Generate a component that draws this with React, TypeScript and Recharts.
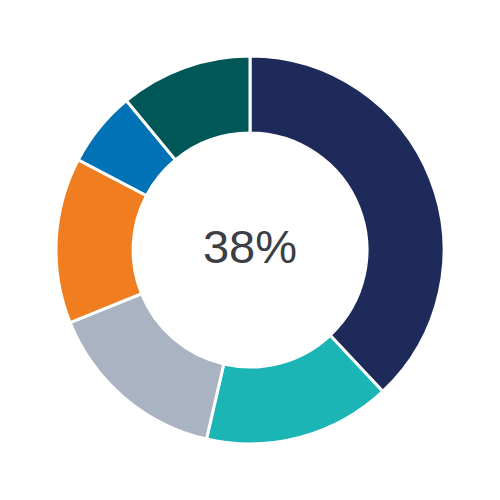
import React from 'react'
import { PieChart, Pie, Cell, Label } from 'recharts'

const segmentNames = ['A', 'B', 'C', 'D', 'E', 'F']
const segmentValues = [38, 15.6, 15.3, 13.8, 6.3, 11]
const segmentColors = ['#1e2b5a', '#1cb5b5', '#a9b3c1', '#f07d1f', '#0072b5', '#005757']
const centerLabel = '38%'

const data = segmentNames.map((name, i) => ({ name, value: segmentValues[i] }))

export default function App() {
  return (
    <div style={{ position: 'absolute', left: 0, top: 0, width: 500, height: 500, background: '#fff' }}>
      <PieChart width={500} height={500} margin={{ top: 0, right: 0, bottom: 0, left: 0 }}>
        <Pie
          data={data}
          dataKey="value"
          nameKey="name"
          cx={250}
          cy={250}
          innerRadius={117}
          outerRadius={194}
          startAngle={90}
          endAngle={-270}
          stroke="#ffffff"
          strokeWidth={3}
          isAnimationActive={false}
        >
          {data.map((d, i) => (
            <Cell key={d.name} fill={segmentColors[i]} />
          ))}
          <Label
            value={centerLabel}
            position="center"
            fill="#3b3e44"
            dy={-4}
            style={{ fontSize: 47, fontFamily: '"Liberation Sans", Arial, sans-serif' }}
          />
        </Pie>
      </PieChart>
    </div>
  )
}
